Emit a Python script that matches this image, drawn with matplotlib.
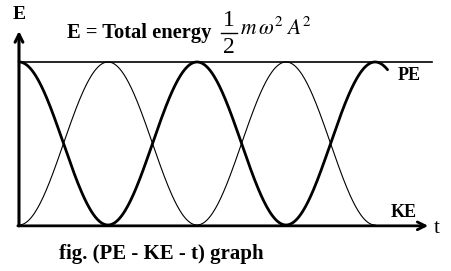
import numpy as np
import matplotlib.pyplot as plt

# phase (radians) along the time axis, energies as fraction of total E
t_thick = np.linspace(0, 2.07 * np.pi, 400)
t_thin = np.linspace(0, 2.0 * np.pi, 400)
thick_curve = np.cos(t_thick) ** 2
thin_curve = np.sin(t_thin) ** 2

serif = ['Liberation Serif', 'DejaVu Serif']
plt.rcParams['mathtext.fontset'] = 'stix'

fig = plt.figure(figsize=(4.52, 2.71), dpi=100)
ax = fig.add_axes([0, 0, 1, 1])
ax.set_xlim(-0.335, 7.64)
ax.set_ylim(-0.282, 1.38)
ax.axis('off')

ax.plot(t_thick, thick_curve, color='black', lw=2.0, solid_capstyle='round')
ax.plot(t_thin, thin_curve, color='black', lw=0.8)

# total energy line
ax.plot([0, 7.29], [1, 1], color='black', lw=1.2)

# axes with arrows
ax.annotate('', xy=(0, 1.19), xytext=(0, -0.005),
            arrowprops=dict(arrowstyle='->', lw=2.2, color='black',
                            mutation_scale=14, shrinkA=0, shrinkB=0))
ax.annotate('', xy=(7.22, -0.005), xytext=(-0.02, -0.005),
            arrowprops=dict(arrowstyle='->', lw=2.0, color='black',
                            mutation_scale=14, shrinkA=0, shrinkB=0))

ax.text(0.0, 1.29, 'E', family=serif, fontweight='bold', fontsize=14,
        ha='center', va='center')
ax.text(7.31, -0.02, 't', family=serif, fontsize=15, ha='left', va='center')
ax.text(0.85, 1.175, 'E = Total energy', family=serif, fontweight='bold',
        fontsize=14.8, ha='left', va='center')

# 1/2 m w^2 A^2
ax.text(3.706, 1.255, '1', family=serif, fontsize=17, ha='center', va='center')
ax.text(3.706, 1.086, '2', family=serif, fontsize=17, ha='center', va='center')
ax.plot([3.57, 3.84], [1.178, 1.178], color='black', lw=1.0)
ax.text(3.90, 1.166, r'$m\,\omega^2\;A^2$', fontsize=15.5,
        ha='left', va='baseline')

ax.text(6.68, 0.92, 'PE', family=serif, fontweight='bold', fontsize=13,
        ha='left', va='center')
ax.text(6.56, 0.075, 'KE', family=serif, fontweight='bold', fontsize=13,
        ha='left', va='center')
ax.text(0.70, -0.18, 'fig. (PE - KE - t) graph', family=serif,
        fontweight='bold', fontsize=15, ha='left', va='center')

fig.savefig('out.png', dpi=100)
